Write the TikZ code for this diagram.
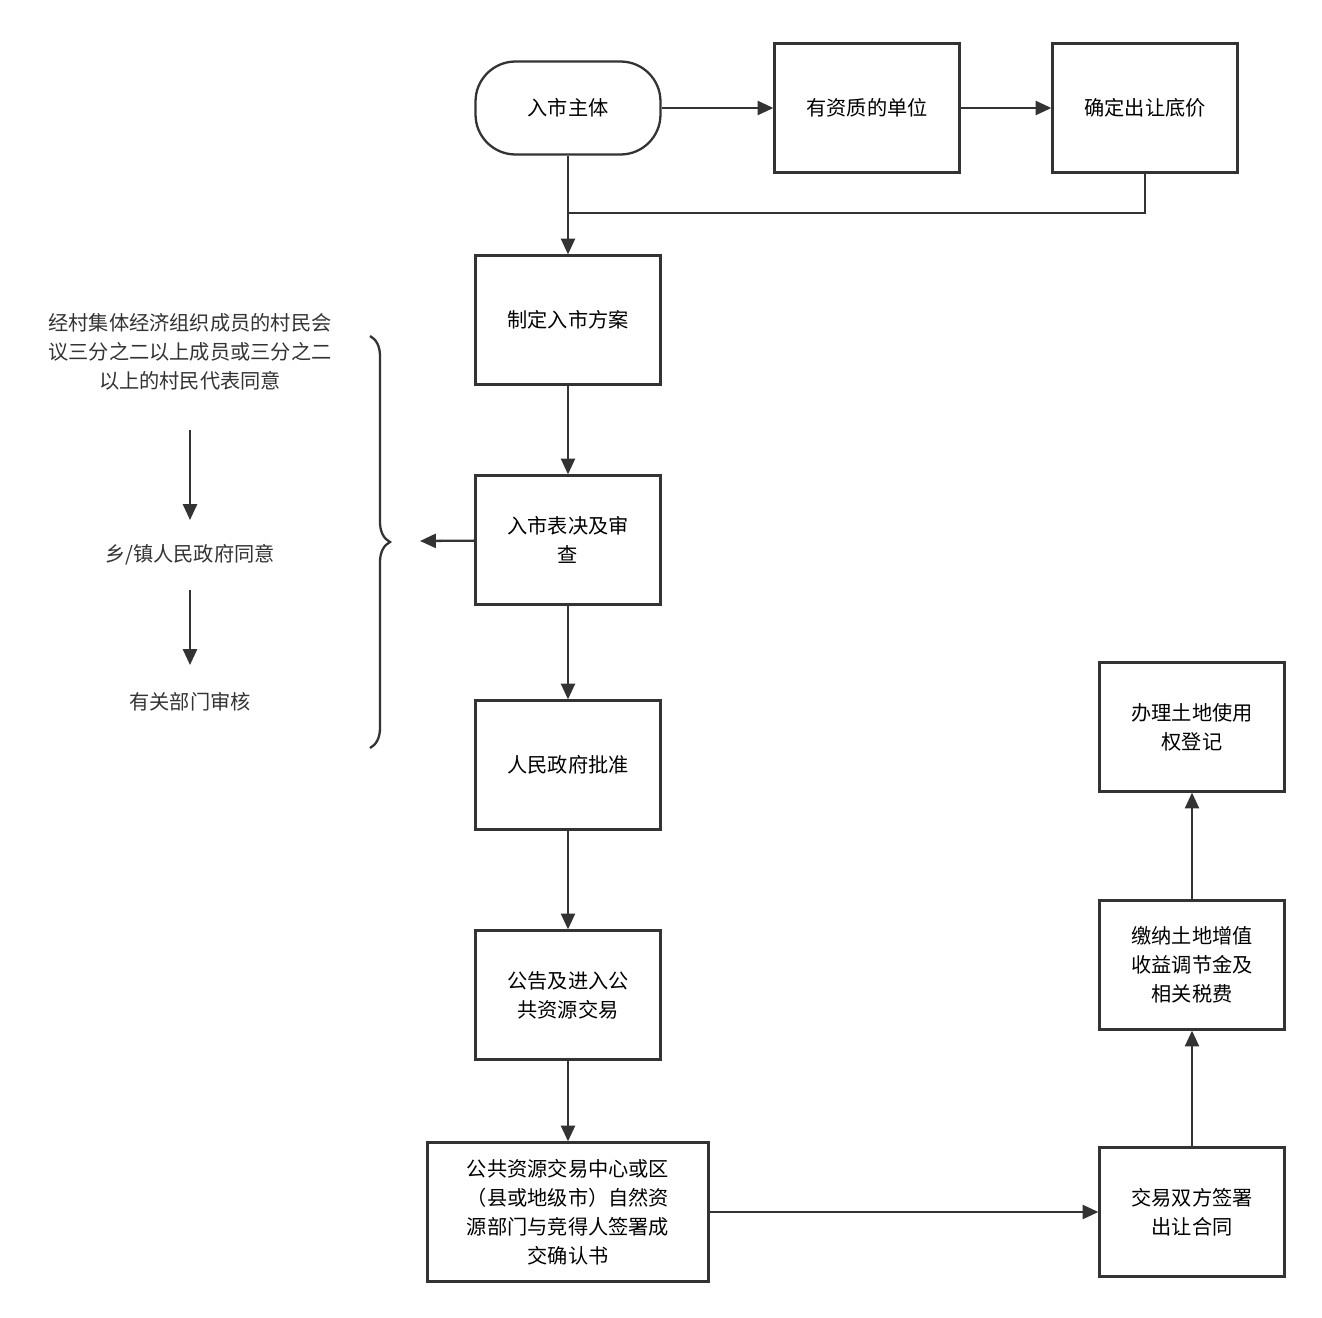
\documentclass[tikz,border=0pt]{standalone}
\usepackage{fontspec}
\setmainfont{Noto Sans CJK SC}
\usetikzlibrary{arrows.meta,positioning,decorations.pathreplacing}
\definecolor{linegray}{HTML}{333333}
\begin{document}
\begin{tikzpicture}[x=0.02cm,y=-0.02cm,
	font=\fontsize{11.5}{16.5}\selectfont,
	line width=1.3pt, draw=linegray]
	\tikzstyle{box}
	  =[draw=linegray, rectangle, minimum width=3.7cm, minimum height=2.58cm, align=center, inner sep=2pt, line width=1.3pt]
	\tikzstyle{arr}
	  =[-{Triangle[length=9pt,width=8pt]}, linegray]
	\tikzstyle{plain}
	  =[align=center, text=linegray]

	\useasboundingbox (0,0) rectangle (1322,1318);

	\node[box,rounded corners=0.8cm,minimum height=1.86cm] (start) at (568,108) {入市主体};
	\node[box] (unit) at (867,108) {有资质的单位};
	\node[box] (price) at (1145,108) {确定出让底价};
	\node[box] (plan) at (568,320) {制定入市方案};
	\node[box] (vote) at (568,540) {入市表决及审\\查};
	\node[box] (approve) at (568,765) {人民政府批准};
	\node[box] (notice) at (568,995) {公告及进入公\\共资源交易};
	\node[box,minimum width=5.62cm,minimum height=2.78cm] (center) at (568,1212)
	  {公共资源交易中心或区\\（县或地级市）自然资\\源部门与竞得人签署成\\交确认书};
	\node[box] (sign) at (1192,1212) {交易双方签署\\出让合同};
	\node[box] (pay) at (1192,965) {缴纳土地增值\\收益调节金及\\相关税费};
	\node[box] (register) at (1192,727) {办理土地使用\\权登记};

	\node[plain] (meeting) at (190,352) {经村集体经济组织成员的村民会\\议三分之二以上成员或三分之二\\以上的村民代表同意};
	\node[plain] (town) at (190,555) {乡/镇人民政府同意};
	\node[plain] (dept) at (190,702) {有关部门审核};
	\coordinate (m_end) at (190,430);
	\coordinate (t_top) at (190,520);
	\coordinate (t_end) at (190,590);
	\coordinate (d_top) at (190,665);
	\coordinate (brace_top) at (370,336);
	\coordinate (brace_bot) at (370,748);
	\coordinate (brace_tip) at (420,541);
	\coordinate (join) at (568,213);

	\draw[arr] (start)--(unit);
	\draw[arr] (unit)--(price);
	\draw[arr] (start)--(plan);
	\draw[-] (price.south) |- (join);
	\draw[arr] (plan)--(vote);
	\draw[arr] (vote)--(approve);
	\draw[arr] (approve)--(notice);
	\draw[arr] (notice)--(center);
	\draw[arr] (center)--(sign);
	\draw[arr] (sign)--(pay);
	\draw[arr] (pay)--(register);
	\draw[arr] (vote)--(brace_tip);

	\draw[arr] (m_end)--(t_top);
	\draw[arr] (t_end)--(d_top);
	\draw[decorate,decoration={brace,amplitude=0.4cm}] (brace_top)--(brace_bot);
\end{tikzpicture}
\end{document}
